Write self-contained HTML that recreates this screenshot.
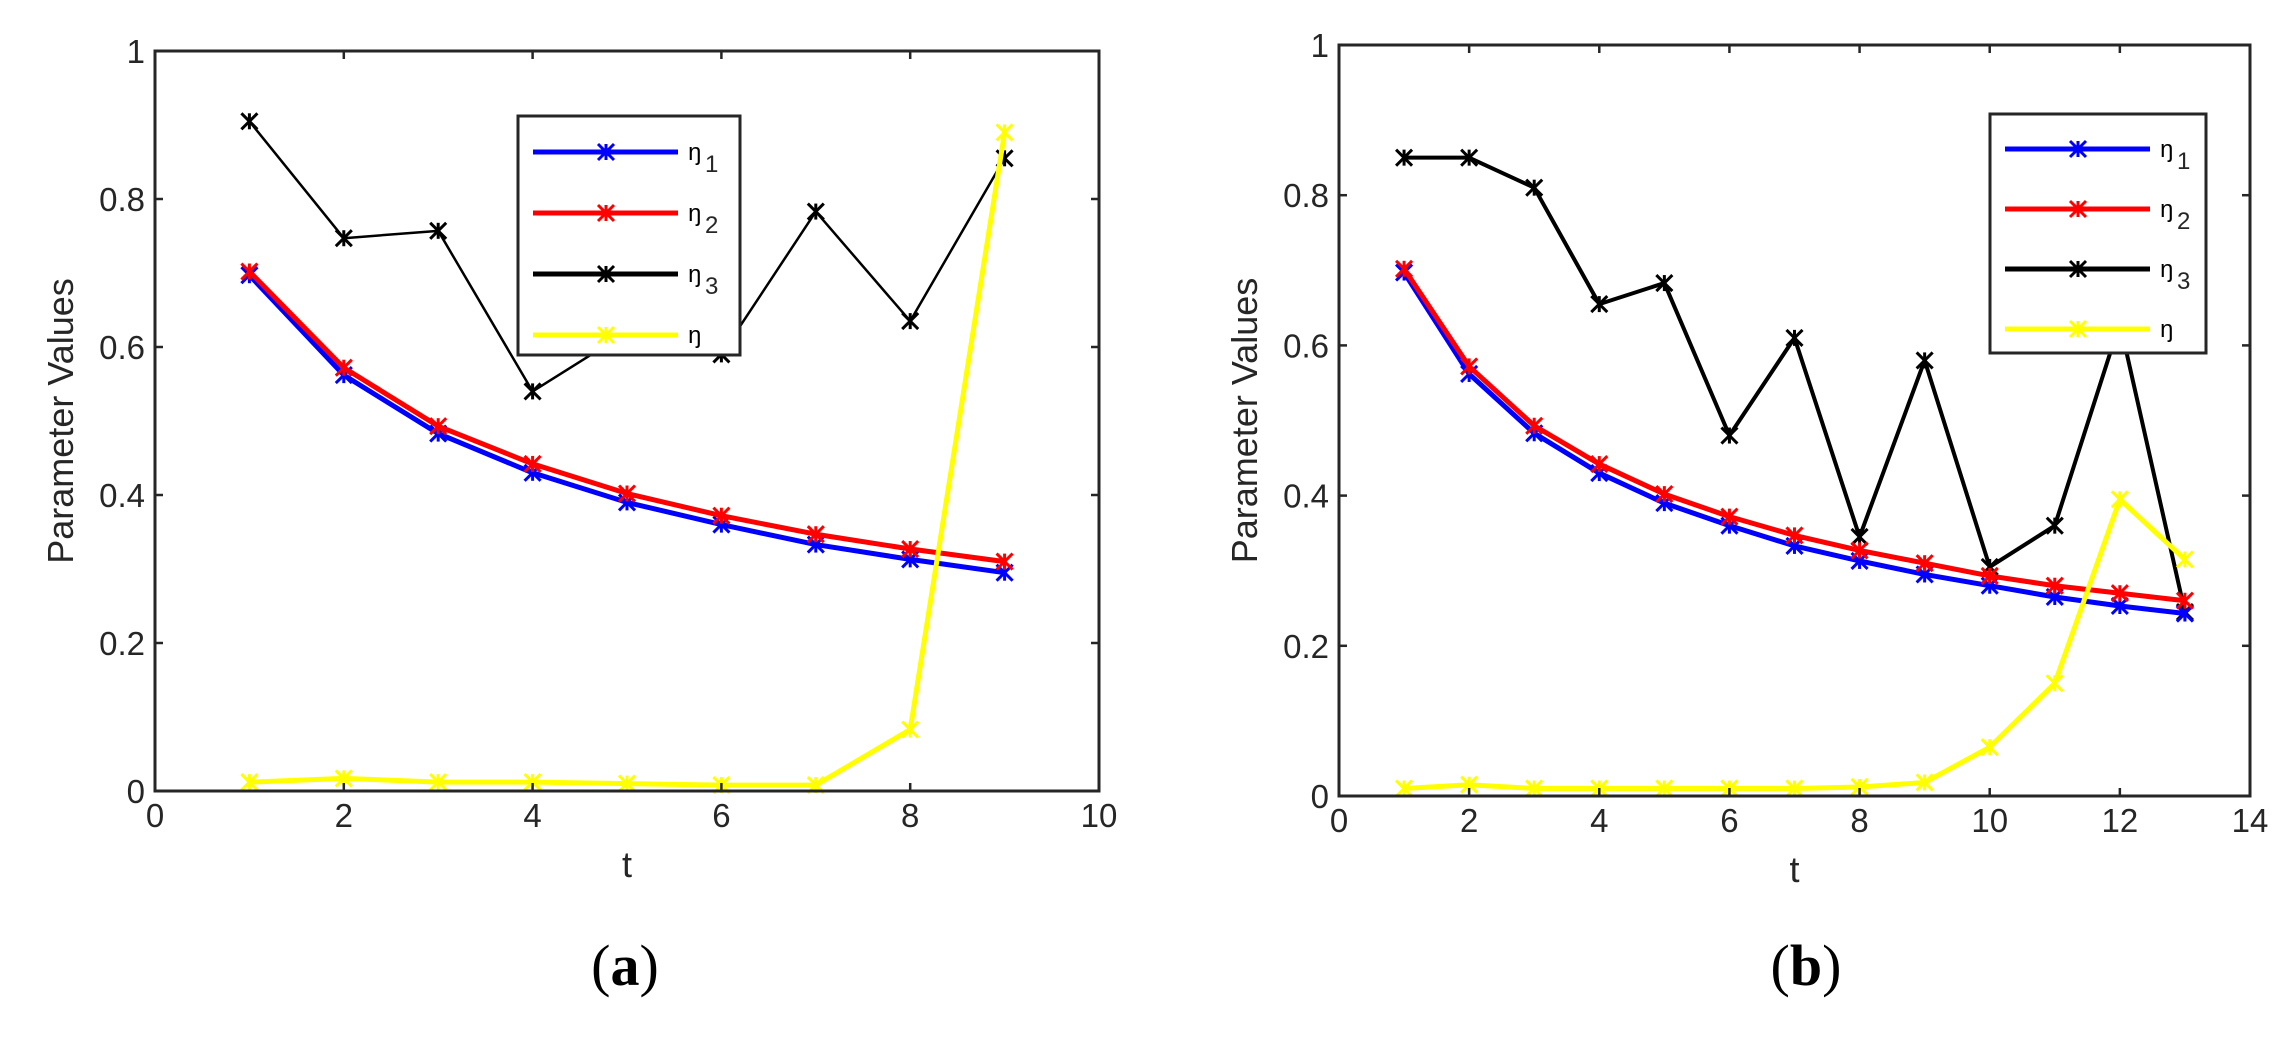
<!DOCTYPE html>
<html><head><meta charset="utf-8"><style>
html,body{margin:0;padding:0;background:#fff;}
svg{display:block;}
text{font-family:"Liberation Sans",sans-serif;fill:#262626;}
text.cap{font-family:"Liberation Serif",serif;fill:#000;}
</style></head><body>
<svg id="s" width="2291" height="1043" xmlns="http://www.w3.org/2000/svg"></svg>
<script>
const S=document.getElementById('s');let h='';
function plot(o){
 const {L,R,T,B,xmax,xstep,series,leg}=o;
 const X=v=>L+(R-L)*v/xmax, Y=v=>B-(B-T)*v;
 for(const s of series){
  const pts=s.d.map((v,i)=>[X(i+1),Y(v)]);
  h+=`<polyline points="${pts.map(p=>p.join(',')).join(' ')}" fill="none" stroke="${s.c}" stroke-width="${s.w}" stroke-linejoin="round"/>`;
  for(const [x,y] of pts){h+=mk(x,y,s.c);}
 }
 h+=`<rect x="${L}" y="${T}" width="${R-L}" height="${B-T}" fill="none" stroke="#262626" stroke-width="3"/>`;
 for(let v=0;v<=xmax;v+=xstep){const x=X(v);
  h+=`<line x1="${x}" y1="${B}" x2="${x}" y2="${B-8}" stroke="#262626" stroke-width="2.5"/><line x1="${x}" y1="${T}" x2="${x}" y2="${T+8}" stroke="#262626" stroke-width="2.5"/>`;
  h+=`<text x="${x}" y="${B+36}" font-size="33" text-anchor="middle">${v}</text>`;}
 for(let k=0;k<=5;k++){const v=k/5,y=Y(v);
  h+=`<line x1="${L}" y1="${y}" x2="${L+8}" y2="${y}" stroke="#262626" stroke-width="2.5"/><line x1="${R}" y1="${y}" x2="${R-8}" y2="${y}" stroke="#262626" stroke-width="2.5"/>`;
  h+=`<text x="${L-10}" y="${y+12}" font-size="33" text-anchor="end">${k==0?'0':k==5?'1':v.toFixed(1)}</text>`;}
 h+=`<text x="${(L+R)/2}" y="${B+86}" font-size="36" text-anchor="middle">t</text>`;
 h+=`<text transform="translate(${L-82},${(T+B)/2}) rotate(-90)" font-size="36" text-anchor="middle">Parameter Values</text>`;
 h+=`<rect x="${leg.x}" y="${leg.y}" width="${leg.w}" height="${leg.h}" fill="#fff" stroke="#262626" stroke-width="3"/>`;
 const cols=['#0000ff','#ff0000','#000','#ffff00'],lab=['1','2','3',''];
 for(let i=0;i<4;i++){const y=leg.r0+i*leg.dr;
  h+=`<line x1="${leg.x+15}" y1="${y}" x2="${leg.x+160}" y2="${y}" stroke="${cols[i]}" stroke-width="5"/>`+mk(leg.x+88,y,cols[i]);
  h+=`<text x="${leg.x+170}" y="${y+8}" font-size="24" style="fill:#000">ŋ</text>`;
  if(lab[i])h+=`<text x="${leg.x+187}" y="${y+20}" font-size="24">${lab[i]}</text>`;}
 h+=`<text class="cap" x="${o.cap}" y="985" font-size="58" text-anchor="middle">(<tspan font-weight="bold">${o.lab}</tspan>)</text>`;
}
function mk(x,y,c){const r=8;return `<g stroke="${c}" stroke-width="3"><line x1="${x-r}" y1="${y-r}" x2="${x+r}" y2="${y+r}"/><line x1="${x-r}" y1="${y+r}" x2="${x+r}" y2="${y-r}"/><line x1="${x}" y1="${y-r}" x2="${x}" y2="${y+r}"/></g>`;}
plot({L:155,R:1099,T:51,B:791,xmax:10,xstep:2,cap:625,lab:'a',
 leg:{x:518,y:116,w:222,h:239,r0:152,dr:61},
 series:[
 {c:'#000',w:2.5,d:[0.905,0.747,0.757,0.54,0.62,0.59,0.783,0.635,0.855]},
 {c:'#0000ff',w:5,d:[0.697,0.562,0.483,0.43,0.39,0.36,0.333,0.313,0.295]},
 {c:'#ff0000',w:5,d:[0.702,0.572,0.493,0.442,0.402,0.372,0.347,0.327,0.31]},
 {c:'#ffff00',w:5,d:[0.012,0.017,0.012,0.012,0.01,0.008,0.008,0.083,0.89]}]});
plot({L:1339,R:2250,T:45,B:796,xmax:14,xstep:2,cap:1806,lab:'b',
 leg:{x:1990,y:114,w:216,h:239,r0:149,dr:60},
 series:[
 {c:'#000',w:4,d:[0.85,0.85,0.81,0.655,0.683,0.48,0.61,0.345,0.58,0.305,0.36,0.63,0.245]},
 {c:'#0000ff',w:5,d:[0.697,0.562,0.483,0.43,0.39,0.36,0.333,0.313,0.295,0.28,0.265,0.253,0.243]},
 {c:'#ff0000',w:5,d:[0.702,0.572,0.493,0.442,0.402,0.372,0.347,0.327,0.31,0.293,0.28,0.27,0.26]},
 {c:'#ffff00',w:5,d:[0.01,0.015,0.01,0.01,0.01,0.01,0.01,0.012,0.018,0.065,0.15,0.395,0.315]}]});
S.innerHTML=h;
</script>
</body></html>
